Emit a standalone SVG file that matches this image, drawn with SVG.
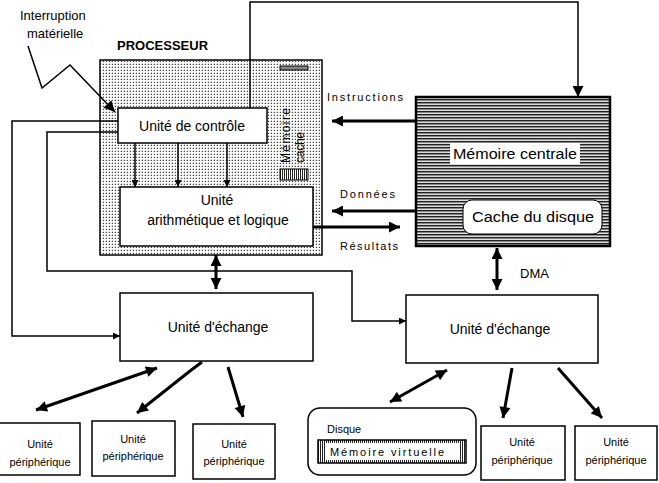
<svg xmlns="http://www.w3.org/2000/svg" width="659" height="483" viewBox="0 0 659 483">
<defs>
<pattern id="dots" width="3" height="3" patternUnits="userSpaceOnUse">
<rect width="3" height="3" fill="#fff"/>
<rect x="1" y="1" width="1" height="1" fill="#444"/>
<rect x="0" y="1" width="1" height="1" fill="#ccc"/>
<rect x="1" y="0" width="1" height="1" fill="#ccc"/>
</pattern>
<pattern id="hstripes" width="4" height="3" patternUnits="userSpaceOnUse">
<rect width="4" height="3" fill="#ddd"/>
<rect y="0" width="4" height="1" fill="#222"/>
<rect y="1" width="4" height="1" fill="#888"/>
</pattern>
<pattern id="vstripes" width="2" height="4" patternUnits="userSpaceOnUse">
<rect width="2" height="4" fill="#fff"/>
<rect x="0" width="1" height="4" fill="#222"/>
</pattern>
<marker id="ah" viewBox="0 0 10 10" refX="10" refY="5" markerWidth="12" markerHeight="11" markerUnits="userSpaceOnUse" orient="auto-start-reverse">
<path d="M0,0 L10,5 L0,10 Z" fill="#000"/>
</marker>
<marker id="as" viewBox="0 0 10 10" refX="10" refY="5" markerWidth="8" markerHeight="7" markerUnits="userSpaceOnUse" orient="auto-start-reverse">
<path d="M0,0 L10,5 L0,10 Z" fill="#000"/>
</marker>
</defs>
<style>
text{font-family:"Liberation Sans",Arial,sans-serif;fill:#000}
.main{font-size:14px;text-anchor:middle}
.small{font-size:11px}
.per{font-size:11px;text-anchor:middle}
.box{fill:#fff;stroke:#000;stroke-width:1.5}
.thin{fill:none;stroke:#000;stroke-width:1.5}
.thick{fill:none;stroke:#000;stroke-width:3}
</style>

<g id="processeur">
<rect x="100" y="60" width="222" height="195" fill="url(#dots)" stroke="#000" stroke-width="1.5"/>
<text x="117" y="50" style="font-size:13px;font-weight:bold">PROCESSEUR</text>
</g>

<g id="memoire-cache">
<rect x="280" y="66" width="28" height="4" fill="#888" stroke="#000" stroke-width="1"/>
<rect x="280" y="169" width="28" height="11" fill="url(#vstripes)" stroke="#000" stroke-width="1"/>
<text transform="translate(290,163) rotate(-90)" style="font-size:12px" textLength="55" lengthAdjust="spacing">Mémoire</text>
<text transform="translate(304,163) rotate(-90)" style="font-size:12px" textLength="31" lengthAdjust="spacing">cache</text>
</g>

<g id="interruption">
<text x="20" y="20" style="font-size:13px">Interruption</text>
<text x="27" y="38" style="font-size:13px">matérielle</text>
</g>

<g id="unite-controle">
<rect class="box" x="118" y="108" width="149" height="35"/>
<text class="main" x="192" y="131">Unité de contrôle</text>
</g>

<g id="ual">
<rect class="box" x="120" y="187" width="193" height="59"/>
<text class="main" x="217" y="205">Unité</text>
<text class="main" x="218" y="225">arithmétique et logique</text>
</g>

<g id="memoire-centrale">
<rect x="416" y="97" width="194" height="149" fill="url(#hstripes)" stroke="#000" stroke-width="2.5"/>
<rect x="450" y="143" width="130" height="21" fill="#fff"/>
<text class="main" x="515" y="159" textLength="124" lengthAdjust="spacingAndGlyphs">Mémoire centrale</text>
<rect x="463" y="200" width="139" height="34" rx="9" fill="#fff" stroke="#000" stroke-width="1"/>
<text class="main" x="533" y="222" textLength="122" lengthAdjust="spacingAndGlyphs">Cache du disque</text>
</g>

<g id="echange-gauche">
<rect class="box" x="120" y="293" width="193" height="68"/>
<text class="main" x="218" y="332">Unité d'échange</text>
</g>

<g id="echange-droite">
<rect class="box" x="406" y="295" width="192" height="68"/>
<text class="main" x="500" y="334">Unité d'échange</text>
</g>

<g id="peripherique-1">
<rect class="box" x="-2" y="423" width="82" height="52"/>
<text class="per" x="40" y="448">Unité</text>
<text class="per" x="40" y="466">périphérique</text>
</g>
<g id="peripherique-2">
<rect class="box" x="92" y="421" width="83" height="55"/>
<text class="per" x="133" y="443">Unité</text>
<text class="per" x="133" y="460">périphérique</text>
</g>
<g id="peripherique-3">
<rect class="box" x="193" y="424" width="82" height="55"/>
<text class="per" x="234" y="448">Unité</text>
<text class="per" x="234" y="465">périphérique</text>
</g>

<g id="disque">
<rect class="box" x="308" y="408" width="168" height="67" rx="12"/>
<text class="small" x="327" y="433">Disque</text>
<rect x="318" y="440" width="148" height="23" fill="url(#vstripes)" stroke="#000" stroke-width="1.5"/>
<rect x="325" y="443" width="134" height="17" fill="#fff"/>
<text class="small" x="330" y="456" textLength="114" lengthAdjust="spacing">Mémoire  virtuelle</text>
</g>

<g id="peripherique-4">
<rect class="box" x="481" y="426" width="84" height="54"/>
<text class="per" x="522" y="446">Unité</text>
<text class="per" x="522" y="464">périphérique</text>
</g>
<g id="peripherique-5">
<rect class="box" x="575" y="426" width="82" height="54"/>
<text class="per" x="616" y="446">Unité</text>
<text class="per" x="616" y="464">périphérique</text>
</g>

<g id="connecteurs">
<path class="thin" d="M28,46 L42,88 L70,65 L115,112" marker-end="url(#ah)"/>
<path class="thin" d="M250,108 V2 H578 V97" marker-end="url(#ah)"/>
<path class="thin" d="M135,143 V187" marker-end="url(#as)"/>
<path class="thin" d="M178,143 V187" marker-end="url(#as)"/>
<path class="thin" d="M227,143 V187" marker-end="url(#as)"/>
<path class="thin" d="M118,121 H12 V336 H120" marker-end="url(#as)"/>
<path class="thin" d="M118,132 H47 V271 H352 V321 H406" marker-end="url(#as)"/>
<path class="thick" d="M416,121 H332" marker-end="url(#ah)"/>
<path class="thick" d="M416,211 H332" marker-end="url(#ah)"/>
<path class="thick" d="M313,227 H400" marker-end="url(#ah)"/>
<path class="thick" d="M216,255 V289" marker-start="url(#ah)" marker-end="url(#ah)"/>
<path class="thick" d="M497,248 V290" marker-start="url(#ah)" marker-end="url(#ah)"/>
<path class="thick" d="M36,410 L157,368" marker-start="url(#ah)" marker-end="url(#ah)"/>
<path class="thick" d="M202,362 L190,371 L137,413" marker-end="url(#ah)"/>
<path class="thick" d="M228,367 L243,417" marker-end="url(#ah)"/>
<path class="thick" d="M390,402 L447,370" marker-start="url(#ah)" marker-end="url(#ah)"/>
<path class="thick" d="M512,368 L503,418" marker-end="url(#ah)"/>
<path class="thick" d="M558,368 L602,418" marker-end="url(#ah)"/>
<text class="small" x="327" y="101" textLength="76" lengthAdjust="spacing">Instructions</text>
<text class="small" x="340" y="198" textLength="55" lengthAdjust="spacing">Données</text>
<text class="small" x="340" y="250" textLength="58" lengthAdjust="spacing">Résultats</text>
<text x="520" y="278" style="font-size:13px">DMA</text>
</g>
</svg>
